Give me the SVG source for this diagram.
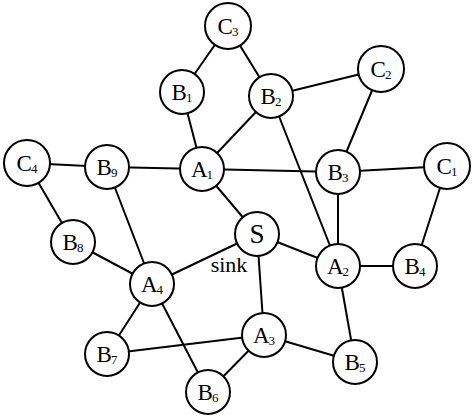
<svg xmlns="http://www.w3.org/2000/svg" width="474" height="416" viewBox="0 0 474 416">
<style>
.e line{stroke:#000;stroke-width:2}
circle{fill:#fff;stroke:#000;stroke-width:2}
text{font-family:"Liberation Serif","Times New Roman",serif;font-size:23px;text-anchor:middle;fill:#000}
.s{font-size:13px}
</style>
<rect width="474" height="416" fill="#fff"/>
<g class="e">
<line x1="228" y1="26" x2="182" y2="92"/>
<line x1="228" y1="26" x2="271" y2="96"/>
<line x1="182" y1="92" x2="202" y2="169"/>
<line x1="271" y1="96" x2="202" y2="169"/>
<line x1="271" y1="96" x2="381" y2="69"/>
<line x1="271" y1="96" x2="338" y2="266"/>
<line x1="381" y1="69" x2="338" y2="172"/>
<line x1="27" y1="163" x2="107" y2="167"/>
<line x1="107" y1="167" x2="202" y2="169"/>
<line x1="202" y1="169" x2="338" y2="172"/>
<line x1="338" y1="172" x2="447" y2="166"/>
<line x1="27" y1="163" x2="73" y2="242"/>
<line x1="107" y1="167" x2="152" y2="284"/>
<line x1="202" y1="169" x2="257" y2="234"/>
<line x1="338" y1="172" x2="338" y2="266"/>
<line x1="447" y1="166" x2="415" y2="266"/>
<line x1="73" y1="242" x2="152" y2="284"/>
<line x1="152" y1="284" x2="257" y2="234"/>
<line x1="257" y1="234" x2="338" y2="266"/>
<line x1="257" y1="234" x2="264" y2="335"/>
<line x1="338" y1="266" x2="415" y2="266"/>
<line x1="338" y1="266" x2="355" y2="362"/>
<line x1="152" y1="284" x2="107" y2="354"/>
<line x1="152" y1="284" x2="208" y2="392"/>
<line x1="107" y1="354" x2="264" y2="335"/>
<line x1="264" y1="335" x2="208" y2="392"/>
<line x1="264" y1="335" x2="355" y2="362"/>
</g>
<g id="C3"><circle cx="228" cy="26" r="23"/><text x="228" y="34">C<tspan class="s" dx="-1" dy="2">3</tspan></text></g>
<g id="B1"><circle cx="182" cy="92" r="22"/><text x="182" y="100">B<tspan class="s" dx="-1" dy="2">1</tspan></text></g>
<g id="B2"><circle cx="271" cy="96" r="22"/><text x="271" y="104">B<tspan class="s" dx="-1" dy="2">2</tspan></text></g>
<g id="C2"><circle cx="381" cy="69" r="23"/><text x="381" y="77">C<tspan class="s" dx="-1" dy="2">2</tspan></text></g>
<g id="C4"><circle cx="27" cy="163" r="23"/><text x="27" y="171">C<tspan class="s" dx="-1" dy="2">4</tspan></text></g>
<g id="B9"><circle cx="107" cy="167" r="22"/><text x="107" y="175">B<tspan class="s" dx="-1" dy="2">9</tspan></text></g>
<g id="A1"><circle cx="202" cy="169" r="22"/><text x="202" y="177">A<tspan class="s" dx="-1" dy="2">1</tspan></text></g>
<g id="B3"><circle cx="338" cy="172" r="22"/><text x="338" y="180">B<tspan class="s" dx="-1" dy="2">3</tspan></text></g>
<g id="C1"><circle cx="447" cy="166" r="23"/><text x="447" y="174">C<tspan class="s" dx="-1" dy="2">1</tspan></text></g>
<g id="S"><circle cx="257" cy="234" r="22"/><text x="257" y="243" style="font-size:27px">S</text><text x="229" y="272" style="font-size:22px">sink</text></g>
<g id="B8"><circle cx="73" cy="242" r="22"/><text x="73" y="250">B<tspan class="s" dx="-1" dy="2">8</tspan></text></g>
<g id="A4"><circle cx="152" cy="284" r="22"/><text x="152" y="292">A<tspan class="s" dx="-1" dy="2">4</tspan></text></g>
<g id="A2"><circle cx="338" cy="266" r="22"/><text x="338" y="274">A<tspan class="s" dx="-1" dy="2">2</tspan></text></g>
<g id="B4"><circle cx="415" cy="266" r="22"/><text x="415" y="274">B<tspan class="s" dx="-1" dy="2">4</tspan></text></g>
<g id="A3"><circle cx="264" cy="335" r="22"/><text x="264" y="343">A<tspan class="s" dx="-1" dy="2">3</tspan></text></g>
<g id="B7"><circle cx="107" cy="354" r="22"/><text x="107" y="362">B<tspan class="s" dx="-1" dy="2">7</tspan></text></g>
<g id="B5"><circle cx="355" cy="362" r="22"/><text x="355" y="370">B<tspan class="s" dx="-1" dy="2">5</tspan></text></g>
<g id="B6"><circle cx="208" cy="392" r="22"/><text x="208" y="400">B<tspan class="s" dx="-1" dy="2">6</tspan></text></g>
</svg>
